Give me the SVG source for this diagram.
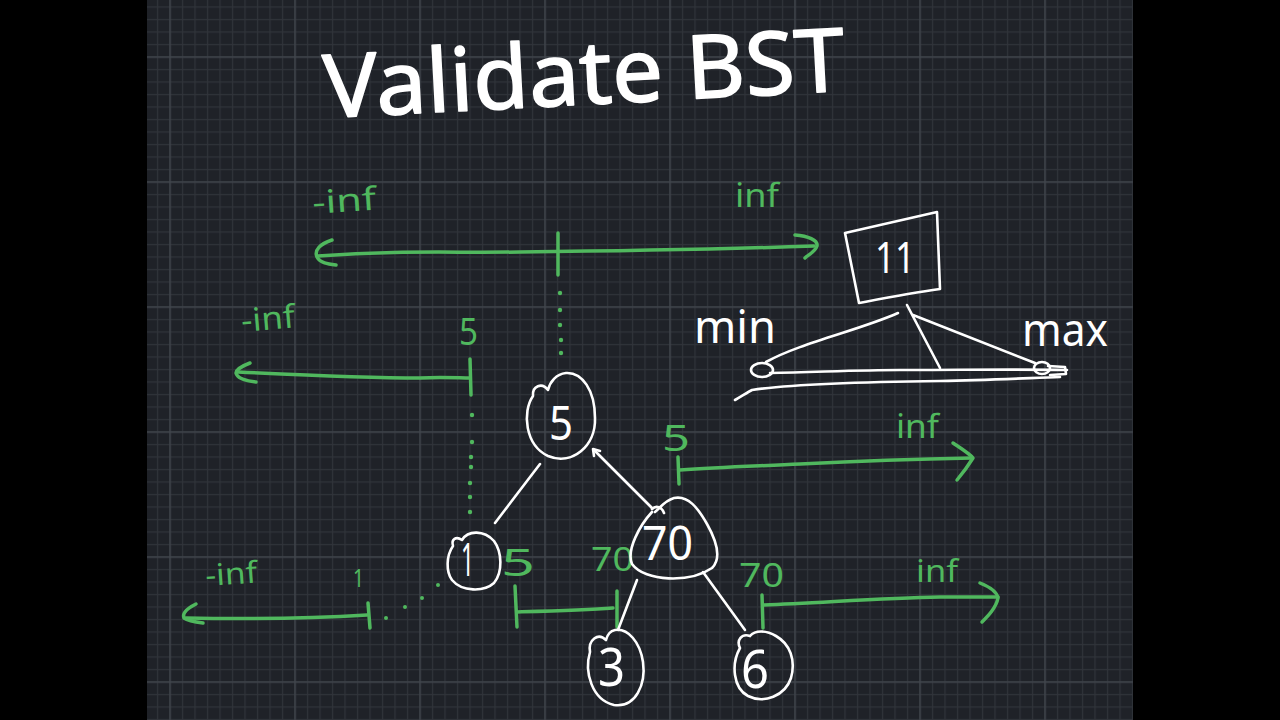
<svg xmlns="http://www.w3.org/2000/svg" width="1280" height="720" viewBox="0 0 1280 720">
<defs>
<pattern id="minor" width="12.5" height="12.5" patternUnits="userSpaceOnUse" x="169.4" y="56.4"><path d="M0.6 0V12.5M0 0.6H12.5" stroke="#30343a" stroke-width="1.2" fill="none"/></pattern>
<pattern id="major" width="125" height="125" patternUnits="userSpaceOnUse" x="169.4" y="56.4"><path d="M0.6 0V125M0 0.6H125" stroke="#42474e" stroke-width="1.3" fill="none"/></pattern>
</defs>
<style>
.g{fill:none;stroke:#50b85e;stroke-width:3.5;stroke-linecap:round;stroke-linejoin:round}
.dot{fill:#50b85e}
.w{fill:none;stroke:#ffffff;stroke-width:2.6;stroke-linecap:round;stroke-linejoin:round}
.gt{fill:#50b85e;font-family:"Noto Sans","DejaVu Sans",sans-serif;font-weight:400}
.wt{fill:#ffffff;font-family:"Noto Sans","DejaVu Sans",sans-serif;font-weight:400}
.title{fill:#ffffff;stroke:#ffffff;stroke-width:1.5;stroke-linejoin:round;font-family:"Noto Sans","DejaVu Sans",sans-serif;font-weight:400}
</style>
<rect width="1280" height="720" fill="#000"/>
<rect x="147" y="0" width="986" height="720" fill="#1f2228"/>
<rect x="147" y="0" width="986" height="720" fill="url(#minor)"/>
<rect x="147" y="0" width="986" height="720" fill="url(#major)"/>

<text class="title" x="325" y="118" font-size="88" textLength="522" lengthAdjust="spacingAndGlyphs" transform="rotate(-3 325 118)">Validate BST</text>

<g id="range-root">
<path class="g" d="M318,256 C400,250 450,253 520,252 C620,251 700,250 814,246"/>
<path class="g" d="M332,240 C320,244 314,250 317,257 C320,263 328,264 336,265"/>
<path class="g" d="M795,235 C808,236 818,240 817,246 C815,252 808,255 805,258"/>
<path class="g" d="M558,233 L558,275"/>
<text class="gt" x="313" y="214" font-size="32" textLength="64" lengthAdjust="spacingAndGlyphs" transform="rotate(-4 313 214)">-inf</text>
<text class="gt" x="735" y="207" font-size="32" textLength="44" lengthAdjust="spacingAndGlyphs">inf</text>
<circle class="dot" cx="560" cy="293" r="2.2"/><circle class="dot" cx="560" cy="310" r="2.2"/><circle class="dot" cx="560" cy="325" r="2.2"/><circle class="dot" cx="561" cy="340" r="2.2"/><circle class="dot" cx="561" cy="353" r="2.2"/>
</g>

<g id="range-left">
<path class="g" d="M238,372 C300,375 380,378 420,378 C440,377 460,378 470,378"/>
<path class="g" d="M250,363 C242,366 236,370 236,373 C237,378 246,381 256,382"/>
<path class="g" d="M470,359 L471,395"/>
<text class="gt" x="242" y="332" font-size="32" textLength="54" lengthAdjust="spacingAndGlyphs" transform="rotate(-5 242 332)">-inf</text>
<text class="gt" x="459" y="345" font-size="38" textLength="19" lengthAdjust="spacingAndGlyphs">5</text>
<circle class="dot" cx="472" cy="415" r="2.2"/><circle class="dot" cx="472" cy="442" r="2.2"/><circle class="dot" cx="471" cy="457" r="2.2"/><circle class="dot" cx="471" cy="467" r="2.2"/><circle class="dot" cx="470" cy="483" r="2.2"/><circle class="dot" cx="470" cy="497" r="2.2"/><circle class="dot" cx="470" cy="512" r="2.2"/>
</g>

<g id="range-right">
<path class="g" d="M680,470 C720,467 760,466 800,464 C860,461 920,459 972,458"/>
<path class="g" d="M953,443 C962,449 970,454 973,458 C968,466 962,474 957,480"/>
<path class="g" d="M678,457 L679,484"/>
<text class="gt" x="662" y="451" font-size="36" textLength="28" lengthAdjust="spacingAndGlyphs">5</text>
<text class="gt" x="896" y="438" font-size="32" textLength="43" lengthAdjust="spacingAndGlyphs">inf</text>
</g>

<g id="range-left-left">
<path class="g" d="M186,618 C240,619 300,619 367,615"/>
<path class="g" d="M196,604 C188,608 182,613 184,618 C188,621 195,622 203,623"/>
<path class="g" d="M368,603 L370,628"/>
<text class="gt" x="206" y="586" font-size="30" textLength="52" lengthAdjust="spacingAndGlyphs" transform="rotate(-4 206 586)">-inf</text>
<text class="gt" x="353" y="587" font-size="26" textLength="11" lengthAdjust="spacingAndGlyphs">1</text>
<circle class="dot" cx="386" cy="618" r="2"/><circle class="dot" cx="405" cy="607" r="2"/><circle class="dot" cx="422" cy="598" r="2"/><circle class="dot" cx="438" cy="585" r="2"/>
</g>

<g id="range-mid">
<path class="g" d="M515,586 L517,627"/>
<path class="g" d="M517,612 C550,611 585,610 613,608"/>
<path class="g" d="M617,591 L617,627"/>
<text class="gt" x="501" y="576" font-size="38" textLength="34" lengthAdjust="spacingAndGlyphs">5</text>
<text class="gt" x="591" y="571" font-size="32" textLength="43" lengthAdjust="spacingAndGlyphs">70</text>
</g>

<g id="range-right-right">
<path class="g" d="M764,605 C820,603 880,598 940,597 C965,597 985,597 998,597"/>
<path class="g" d="M980,583 C990,587 997,592 998,598 C996,608 988,616 982,622"/>
<path class="g" d="M762,595 L763,628"/>
<text class="gt" x="739" y="587" font-size="32" textLength="45" lengthAdjust="spacingAndGlyphs">70</text>
<text class="gt" x="916" y="582" font-size="30" textLength="42" lengthAdjust="spacingAndGlyphs">inf</text>
</g>

<g id="connectors">
<path class="w" d="M540,464 L495,523"/>
<path class="w" d="M594,450 L652,508"/>
<path class="w" d="M593,449 L600,451 M593,449 L594,456"/>
<path class="w" d="M637,580 L618,630"/>
<path class="w" d="M703,572 L745,630"/>
</g>

<g id="node-5">
<path class="w" d="M548,390 C542,382 532,386 533,396 C522,412 525,445 548,456 C572,466 596,446 595,418 C595,390 582,372 566,373 C556,374 550,382 548,390"/>
<text class="wt" x="549" y="440" font-size="48" textLength="24" lengthAdjust="spacingAndGlyphs">5</text>
</g>

<g id="node-1">
<path class="w" d="M462,540 C456,536 451,539 453,546 C446,556 446,572 452,580 C462,592 484,592 494,583 C503,572 502,552 494,541 C484,530 468,530 462,540"/>
<text class="wt" x="461" y="576" font-size="46" textLength="13" lengthAdjust="spacingAndGlyphs">1</text>
</g>

<g id="node-70">
<path class="w" d="M652,512 C640,525 626,550 632,564 C645,582 690,583 712,568 C722,558 716,540 707,524 C698,508 688,495 674,498 C664,501 660,508 655,512 M652,509 C656,505 662,507 664,513"/>
<text class="wt" x="642" y="560" font-size="48" textLength="51" lengthAdjust="spacingAndGlyphs">70</text>
</g>

<g id="node-3">
<path class="w" d="M606,640 C598,632 588,640 590,652 C584,672 592,700 614,705 C636,708 646,684 643,662 C640,642 628,628 615,630 C610,631 607,636 606,640"/>
<text class="wt" x="598" y="686" font-size="52" textLength="27" lengthAdjust="spacingAndGlyphs">3</text>
</g>

<g id="node-6">
<path class="w" d="M750,636 C742,633 736,640 740,648 C731,664 733,688 748,696 C764,704 785,696 791,678 C796,660 790,644 776,636 C766,630 755,630 750,636"/>
<text class="wt" x="741" y="688" font-size="52" textLength="28" lengthAdjust="spacingAndGlyphs">6</text>
</g>

<g id="node-11">
<path class="w" d="M845,233 L937,212 L940,289 M940,289 C910,293 885,298 859,303 L845,233"/>
<text class="wt" x="875" y="273" font-size="44" textLength="40" lengthAdjust="spacingAndGlyphs">11</text>
</g>

<g id="range-sketch">
<path class="w" d="M898,313 C860,330 800,343 766,362"/>
<path class="w" d="M907,305 L940,368"/>
<path class="w" d="M913,315 L1035,363"/>
<path class="w" d="M770,373 C820,372 860,370 900,370 C960,370 1010,369 1067,370"/>
<path class="w" d="M735,400 C742,396 748,392 752,390 C790,384 860,382 940,381 C990,380 1030,378 1060,377"/>
<ellipse class="w" cx="762" cy="370" rx="11" ry="7"/>
<ellipse class="w" cx="1042" cy="368" rx="8" ry="6"/>
<path class="w" d="M1048,366 L1065,367 L1066,374 L1050,375"/>
<text class="wt" x="694" y="343" font-size="46" textLength="82" lengthAdjust="spacingAndGlyphs">min</text>
<text class="wt" x="1022" y="346" font-size="46" textLength="86" lengthAdjust="spacingAndGlyphs">max</text>
</g>
</svg>
